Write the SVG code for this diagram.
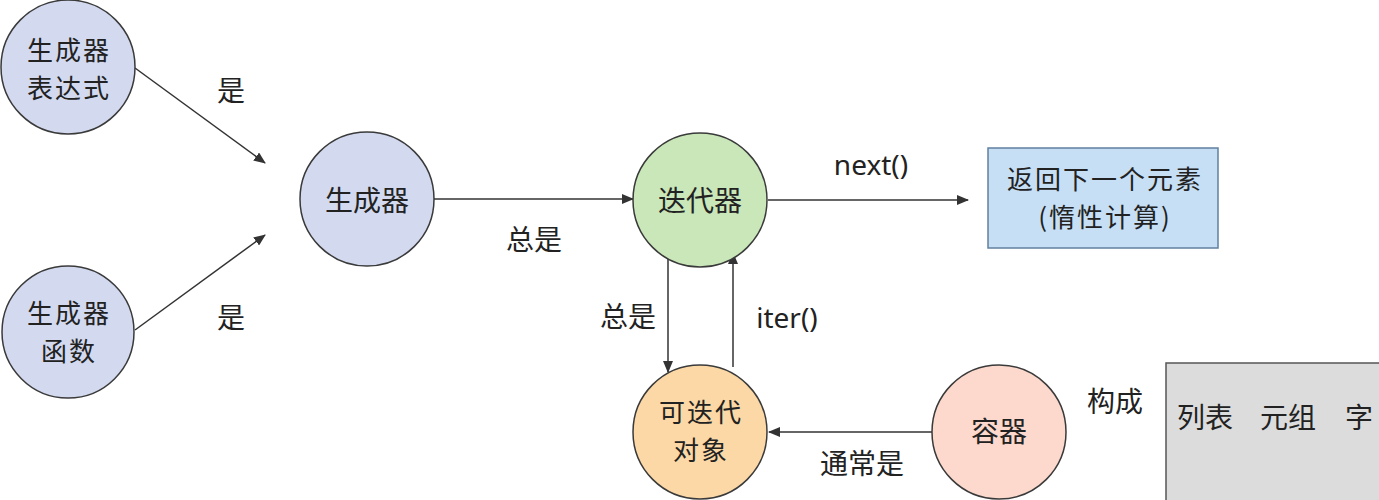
<svg xmlns="http://www.w3.org/2000/svg" width="1379" height="500" viewBox="0 0 1379 500">
<style>
.n{stroke:#3a3a3a;stroke-width:1.5}
.t{font-family:"Noto Sans CJK SC","Noto Sans",sans-serif;font-size:28px;fill:#222;text-anchor:middle}
.s{font-family:"Noto Sans CJK SC","Noto Sans",sans-serif;font-size:26px;letter-spacing:2px;fill:#222;text-anchor:middle}
.l{font-family:"Noto Sans","Noto Sans CJK SC",sans-serif;font-size:28px;fill:#222;text-anchor:middle}
.c{stroke:#333;stroke-width:1.5;fill:none;marker-end:url(#ah)}
</style>
<defs>
<marker id="ah" markerUnits="userSpaceOnUse" markerWidth="12" markerHeight="10" refX="11" refY="5" orient="auto">
<path d="M0,0 L12,5 L0,10 Z" fill="#333"/>
</marker>
</defs>
<rect width="1379" height="500" fill="#fff"/>
<g id="connectors">
<line class="c" x1="135" y1="68" x2="265" y2="163"/>
<line class="c" x1="135" y1="330" x2="265" y2="235"/>
<line class="c" x1="434" y1="199" x2="633" y2="199"/>
<line class="c" x1="768" y1="200" x2="968" y2="200"/>
<line class="c" x1="668" y1="259" x2="668" y2="372"/>
<line class="c" x1="733" y1="367" x2="733" y2="253"/>
<line class="c" x1="933" y1="432" x2="769" y2="432"/>
<text class="t" x="231" y="101">是</text>
<text class="t" x="231" y="328">是</text>
<text class="t" x="534" y="250">总是</text>
<text class="l" x="871" y="175">next()</text>
<text class="t" x="628" y="327">总是</text>
<text class="l" x="787" y="328">iter()</text>
<text class="t" x="862" y="474">通常是</text>
<text class="t" x="1115" y="412">构成</text>
</g>
<g id="gen-expr">
<circle class="n" cx="68" cy="67" r="67" fill="#d3daf0"/>
<text class="s" x="69" y="60">生成器</text>
<text class="s" x="69" y="98">表达式</text>
</g>
<g id="gen-func">
<circle class="n" cx="68" cy="332" r="66" fill="#d3daf0"/>
<text class="s" x="69" y="323">生成器</text>
<text class="s" x="69" y="361">函数</text>
</g>
<g id="generator">
<circle class="n" cx="367" cy="199" r="67" fill="#d3daf0"/>
<text class="t" x="367" y="211">生成器</text>
</g>
<g id="iterator">
<circle class="n" cx="700" cy="200" r="67" fill="#c9e7b9"/>
<text class="t" x="700" y="211">迭代器</text>
</g>
<g id="iterable">
<circle class="n" cx="700" cy="432" r="67" fill="#fbd8a5"/>
<text class="s" x="701" y="422">可迭代</text>
<text class="s" x="701" y="460">对象</text>
</g>
<g id="container">
<circle class="n" cx="999" cy="432" r="67" fill="#fcd9cc"/>
<text class="t" x="999" y="442">容器</text>
</g>
<g id="next-element">
<rect x="988" y="148" width="230" height="100" fill="#c6dff5" stroke="#6080a0" stroke-width="1.5"/>
<text class="s" x="1105" y="189">返回下一个元素</text>
<text class="s" x="1105" y="227">(惰性计算)</text>
</g>
<g id="types">
<rect x="1166" y="363" width="240" height="150" fill="#dcdcdc" stroke="#555" stroke-width="1.5"/>
<text class="t" x="1205" y="428">列表</text>
<text class="t" x="1288" y="428">元组</text>
<text class="t" x="1359" y="428">字</text>
</g>
</svg>
